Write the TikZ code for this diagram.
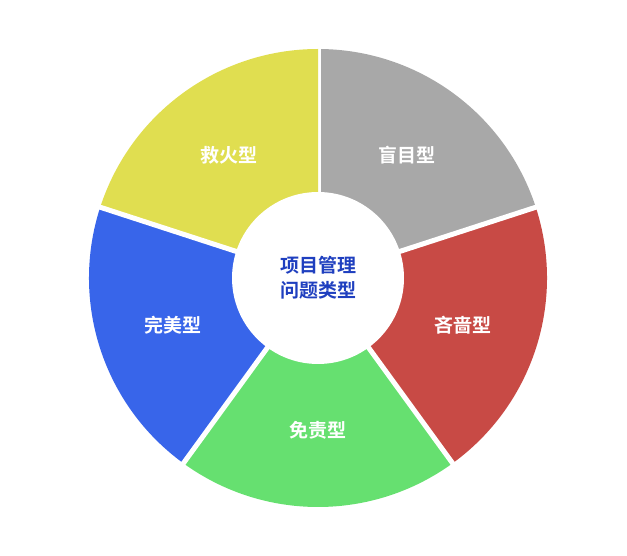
\documentclass[tikz,border=0pt]{standalone}
\usepackage{fontspec}
\usetikzlibrary{calc}
\newfontfamily\cjk{Noto Sans CJK SC}[BoldFont={Noto Sans CJK SC Bold}]
\begin{document}
\begin{tikzpicture}[x=1pt,y=1pt,
  seg/.style={draw=white,line width=5pt,line join=miter},
  lab/.style={text=white,font=\cjk\bfseries\fontsize{19}{22}\selectfont}]
\useasboundingbox (0,0) rectangle (627,555);
\coordinate (c) at (318,277);
\def\R{229}
\foreach \a/\b/\col/\t/\n in {90/18/A8A8A8/盲目型/s1, 18/-54/C84A45/吝啬型/s2, -54/-126/66E070/免责型/s3, -126/-198/3865EA/完美型/s4, 162/90/E0DE50/救火型/s5}{
  \definecolor{tmp}{HTML}{\col}
  \fill[tmp] (c) -- ++(\a:\R) arc[start angle=\a,end angle=\b,radius=\R] -- cycle;
  \draw[seg] (c) -- ++(\a:\R+5);
  \node[lab] (\n) at ($(c)+({(\a+\b)/2}:152)$) {\t};
}
\fill[white] (c) circle (86);
\node[align=center,text={rgb,255:red,31;green,63;blue,191},font=\cjk\bfseries\fontsize{19}{25}\selectfont] (ctr) at (c) {项目管理\\问题类型};
\end{tikzpicture}
\end{document}
